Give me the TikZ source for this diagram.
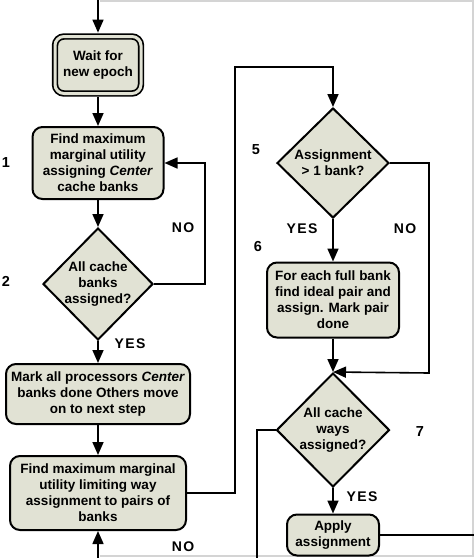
\documentclass[tikz,border=0pt]{standalone}
\usepackage{fontspec}
\setmainfont{Liberation Sans}
\newfontfamily\answerfont[LetterSpace=10]{Liberation Sans}
\usepackage{tikz}
\usetikzlibrary{arrows.meta,shapes.geometric}
\definecolor{boxfill}{HTML}{E1E2D4}
\definecolor{framegray}{HTML}{D4D4D4}
\tikzset{
  boxtext/.style={font=\fontsize{13.5}{16}\selectfont\bfseries, align=center},
  procbox/.style={boxtext, draw, line width=2pt, fill=boxfill, rounded corners=10pt, inner sep=2pt},
  decision/.style={boxtext, draw, line width=2pt, fill=boxfill, diamond, aspect=1, inner sep=-6pt},
  startbox/.style={boxtext, draw, line width=1.7pt, double=boxfill, double distance=3pt, fill=boxfill, rounded corners=9pt, inner sep=2pt},
  stepno/.style={font=\fontsize{14.5}{16}\selectfont\bfseries},
  answer/.style={font=\answerfont\fontsize{14}{16}\selectfont\bfseries},
  flow/.style={line width=1.6pt, -{Triangle[length=13pt,width=11pt]}},
  wire/.style={line width=1.6pt}
}

\begin{document}
\begin{tikzpicture}[x=1pt,y=-1pt]
\useasboundingbox (0,0) rectangle (474,558);
% outer frame, only partly visible
\draw[framegray, line width=1.5pt] (100,1) -- (473,1) -- (473,556) -- (100,556);

% left column
\node[startbox, minimum width=86pt, minimum height=57pt] (wait) at (98,65) {Wait for\\new epoch};
\node[procbox, minimum width=131pt, minimum height=72pt] (findc) at (98,163) {Find maximum\\marginal utility\\assigning \textit{Center}\\cache banks};
\node[decision, minimum width=110pt, minimum height=112pt] (allbanks) at (98,284) {All cache\\banks\\assigned?};
\node[procbox, minimum width=184pt, minimum height=60pt] (mark) at (98,394) {Mark all processors \textit{Center}\\banks done Others move\\on to next step};
\node[procbox, minimum width=176pt, minimum height=74pt] (findp) at (98,493) {Find maximum marginal\\utility limiting way\\assignment to pairs of\\banks};

% right column
\node[decision, minimum width=112pt, minimum height=110pt] (multi) at (333,163) {Assignment\\> 1 bank?};
\node[procbox, minimum width=132pt, minimum height=75pt] (pair) at (333,300) {For each full bank\\find ideal pair and\\assign. Mark pair\\done};
\node[decision, minimum width=113pt, minimum height=114pt] (allways) at (333,430) {All cache\\ways\\assigned?};
\node[procbox, minimum width=92pt, minimum height=41pt] (apply) at (333,535) {Apply\\assignment};

% step numbers
\node[stepno] (s1) at (6,163) {1};
\node[stepno] (s2) at (6,281) {2};
\node[stepno] (s5) at (256,150) {5};
\node[stepno] (s6) at (258,247) {6};
\node[stepno] (s7) at (420,432) {7};

% answers
\node[answer] (noa) at (183,228) {NO};
\node[answer] (yesa) at (130,344) {YES};
\node[answer] (yesb) at (302,229) {YES};
\node[answer] (nob) at (405,229) {NO};
\node[answer] (yesc) at (362,497) {YES};
\node[answer] (noc) at (183,547) {NO};

% connectors
\coordinate (topin) at (98,0);
\coordinate (botin) at (98,558);
\coordinate (loopa) at (205,163);
\coordinate (upturn) at (235,67);
\coordinate (loopb) at (429,373);
\coordinate (botout) at (257,558);
\coordinate (rightout) at (474,535);

\draw[flow, shorten >=3pt] (topin) -- (wait);
\draw[flow, shorten <=3pt] (wait) -- (findc);
\draw[flow] (findc) -- (allbanks);
\draw[flow] (allbanks.east) -| (loopa) -- (findc.east);
\draw[flow] (allbanks) -- (mark);
\draw[flow] (mark) -- (findp);
\draw[flow] (botin) -- (findp);
\draw[flow] (findp.east) -| (upturn) -| (multi.north);
\draw[flow] (multi) -- (pair);
\draw[flow] (multi.east) -| (loopb) -- (allways.north);
\draw[flow] (pair) -- (allways);
\draw[flow] (allways) -- (apply);
\draw[wire] (allways.west) -| (botout);
\draw[wire] (apply.east) -- (rightout);
\end{tikzpicture}
\end{document}
